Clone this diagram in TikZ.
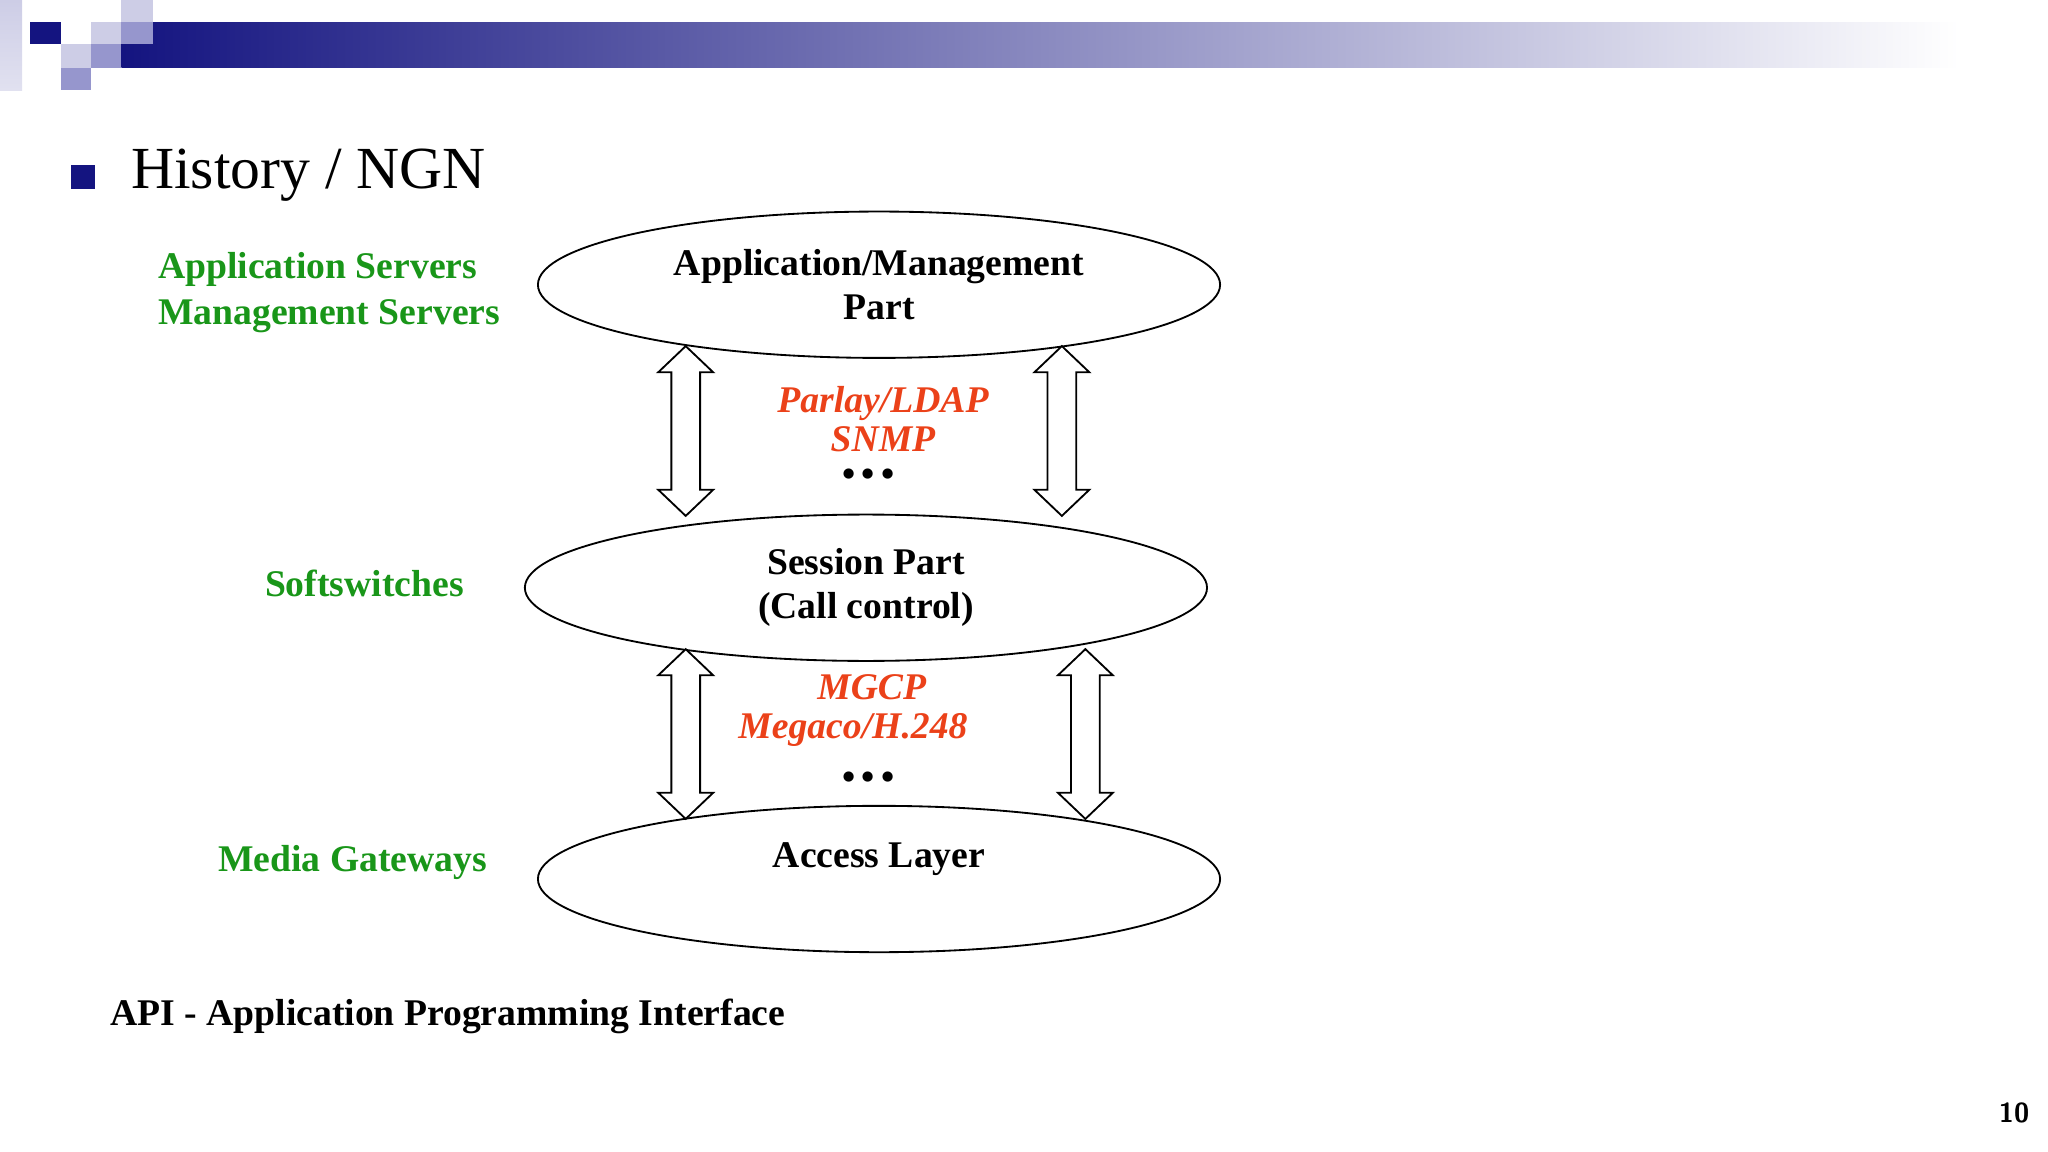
\documentclass[tikz,border=0pt]{standalone}
\usepackage{tikz}
\usetikzlibrary{positioning,shapes.geometric}
\usepackage{fontspec}
\setmainfont{Liberation Serif}
\definecolor{navy}{RGB}{20,20,128}
\definecolor{lav}{RGB}{205,205,230}
\definecolor{lavm}{RGB}{150,150,205}
\definecolor{labgreen}{RGB}{25,150,25}
\definecolor{protred}{RGB}{235,65,25}
\tikzset{
  layer/.style={draw,ellipse,inner sep=0pt,minimum width=5.22cm,minimum height=1.12cm,align=center,font=\fontsize{8.2}{9.6}\selectfont\bfseries},
  side/.style={text=labgreen,align=left,font=\fontsize{8.2}{10}\selectfont\bfseries},
  proto/.style={text=protred,align=center,font=\fontsize{8.2}{8.6}\selectfont\bfseries\itshape},
  dots/.style={font=\fontsize{8.2}{9}\selectfont\bfseries}
}
% hollow double arrow between two y values at x
\newcommand{\dblarrow}[3]{%
  \draw[fill=white] (#1-11,#2+20) -- (#1-21,#2+20) -- (#1,#2) -- (#1+21,#2+20) -- (#1+11,#2+20)
    -- (#1+11,#3-20) -- (#1+21,#3-20) -- (#1,#3) -- (#1-21,#3-20) -- (#1-11,#3-20) -- cycle;}
\begin{document}
\begin{tikzpicture}[x=0.01cm,y=-0.01cm]
\useasboundingbox (0,0) rectangle (1568,882);
% header
\shade[left color=navy,right color=white] (93,17) rectangle (1500,52);
\shade[top color=lav,bottom color=lav!60] (0,0) rectangle (17,69);
\fill[navy] (23,17) rectangle (47,34);
\fill[lav] (47,34) rectangle (70,52);
\fill[lavm] (47,52) rectangle (70,69);
\fill[lav] (70,17) rectangle (93,34);
\fill[lavm] (70,34) rectangle (93,52);
\fill[lav] (93,0) rectangle (117,17);
\fill[lavm] (93,17) rectangle (117,34);
% title
\fill[navy] (54,126) rectangle (73,145);
\node[anchor=west,font=\fontsize{13}{15}\selectfont] (title) at (88,134) {History / NGN};
% layers
\node[layer] (app) at (673,218) {Application/Management\\Part};
\node[layer] (sess) at (663,450) {Session Part\\(Call control)};
\node[layer] (acc) at (673,673) {};
\node[font=\fontsize{8.2}{9.6}\selectfont\bfseries] (acctext) at (673,658) {Access Layer};
% side labels
\node[side] (appsrv) at (252,224) {Application Servers\\Management Servers};
\node[side] (soft) at (279,447) {Softswitches};
\node[side] (mgw) at (270,660) {Media Gateways};
% protocols
\node[proto] (p1) at (676,321) {Parlay/LDAP\\SNMP};
\node[dots] (d1) at (665,366) {\textbullet\,\textbullet\,\textbullet};
\node[proto] (p2) at (653,544) {\phantom{xx}MGCP\\Megaco/H.248};
\node[dots] (d2) at (665,598) {\textbullet\,\textbullet\,\textbullet};
% arrows
\dblarrow{525}{265}{395}
\dblarrow{813}{265}{395}
\dblarrow{525}{497}{627}
\dblarrow{831}{497}{627}
% footer
\node[anchor=west,font=\fontsize{8.2}{10}\selectfont\bfseries] (api) at (72,778) {API - Application Programming Interface};
\node[font=\fontsize{6}{7}\selectfont\sffamily\bfseries] (pg) at (1542,852) {10};
\end{tikzpicture}
\end{document}
